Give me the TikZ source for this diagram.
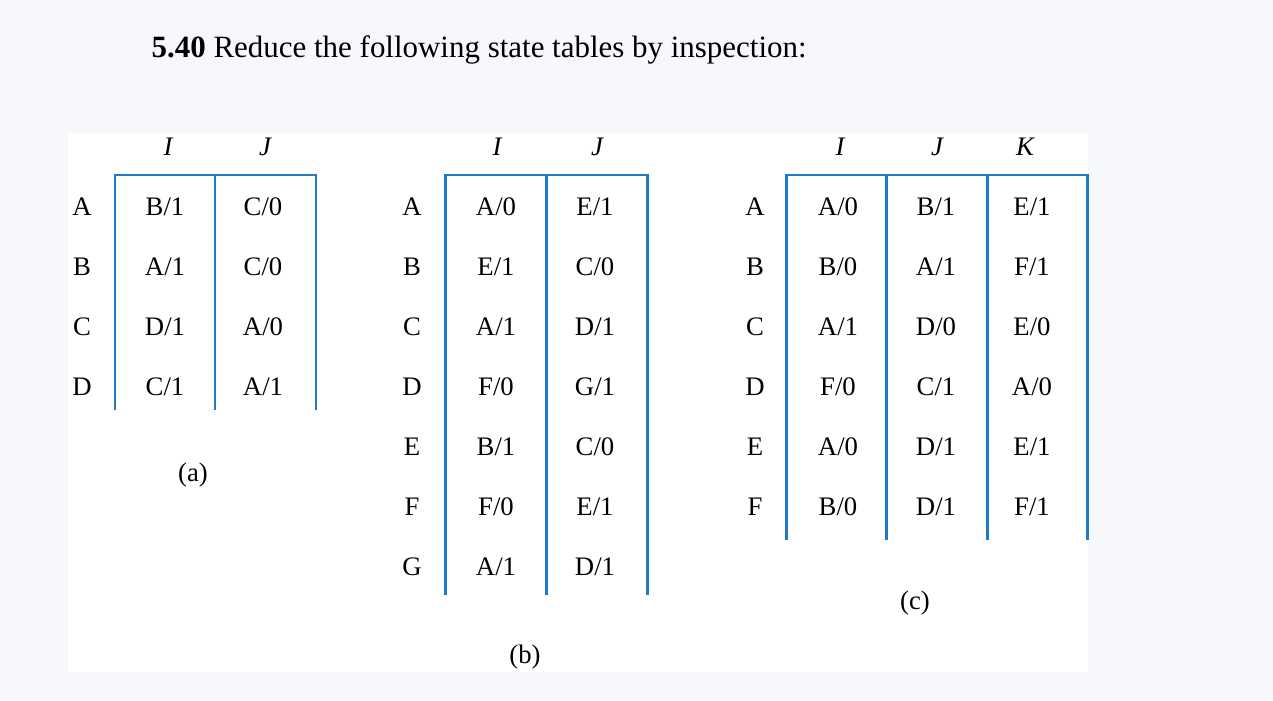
\documentclass[tikz,border=0pt]{standalone}
\usepackage{fontspec}
\setmainfont{Liberation Serif}
\definecolor{pagebg}{HTML}{F7F8FC}
\definecolor{tblue}{HTML}{1F7BC9}
\begin{document}
\begin{tikzpicture}[x=0.01cm,y=-0.01cm,
  cell/.style={font=\fontsize{7.6pt}{8pt}\selectfont, inner sep=0pt},
  hdr/.style={font=\fontsize{7.6pt}{8pt}\selectfont\itshape, inner sep=0pt},
  captxt/.style={font=\fontsize{7.6pt}{8pt}\selectfont, inner sep=0pt},
  rule/.style={draw=tblue, line width=0.85pt}]
\fill[pagebg] (0,0) rectangle (1273,700);
\useasboundingbox (0,0) rectangle (1273,700);
\fill[white] (68,133) rectangle (1088,672);
\node[anchor=west, inner sep=0pt, font=\fontsize{8.8pt}{9pt}\selectfont] (title) at (151,50) {\textbf{5.40} Reduce the following state tables by inspection:};
% (a)
\draw[rule] (115,410) -- (115,175) -- (316,175) -- (316,410);
\draw[rule] (215,175) -- (215,410);
\node[hdr] (aI) at (168,147) {I}; \node[hdr] (aJ) at (265,147) {J};
\foreach \r/\a/\b [count=\i] in {A/B\slash1/C\slash0, B/A\slash1/C\slash0, C/D\slash1/A\slash0, D/C\slash1/A\slash1}{
  \node[cell] (ar\i) at (82,147+60*\i) {\r};
  \node[cell] (aa\i) at (165,147+60*\i) {\a};
  \node[cell] (ab\i) at (263,147+60*\i) {\b};}
\node[captxt] (capa) at (193,475) {(a)};
% (b)
\draw[rule] (445,595) -- (445,175) -- (647,175) -- (647,595);
\draw[rule] (546,175) -- (546,595);
\node[hdr] (bI) at (497,147) {I}; \node[hdr] (bJ) at (597,147) {J};
\foreach \r/\a/\b [count=\i] in {A/A\slash0/E\slash1, B/E\slash1/C\slash0, C/A\slash1/D\slash1, D/F\slash0/G\slash1, E/B\slash1/C\slash0, F/F\slash0/E\slash1, G/A\slash1/D\slash1}{
  \node[cell] (br\i) at (412,147+60*\i) {\r};
  \node[cell] (ba\i) at (496,147+60*\i) {\a};
  \node[cell] (bb\i) at (595,147+60*\i) {\b};}
\node[captxt] (capb) at (525,657) {(b)};
% (c)
\draw[rule] (786,540) -- (786,175) -- (1087,175) -- (1087,540);
\draw[rule] (886,175) -- (886,540);
\draw[rule] (987,175) -- (987,540);
\node[hdr] (cI) at (840,147) {I}; \node[hdr] (cJ) at (937,147) {J}; \node[hdr] (cK) at (1025,147) {K};
\foreach \r/\a/\b/\c [count=\i] in {A/A\slash0/B\slash1/E\slash1, B/B\slash0/A\slash1/F\slash1, C/A\slash1/D\slash0/E\slash0, D/F\slash0/C\slash1/A\slash0, E/A\slash0/D\slash1/E\slash1, F/B\slash0/D\slash1/F\slash1}{
  \node[cell] (cr\i) at (755,147+60*\i) {\r};
  \node[cell] (ca\i) at (838,147+60*\i) {\a};
  \node[cell] (cb\i) at (936,147+60*\i) {\b};
  \node[cell] (cc\i) at (1032,147+60*\i) {\c};}
\node[captxt] (capc) at (915,603) {(c)};
\end{tikzpicture}
\end{document}
